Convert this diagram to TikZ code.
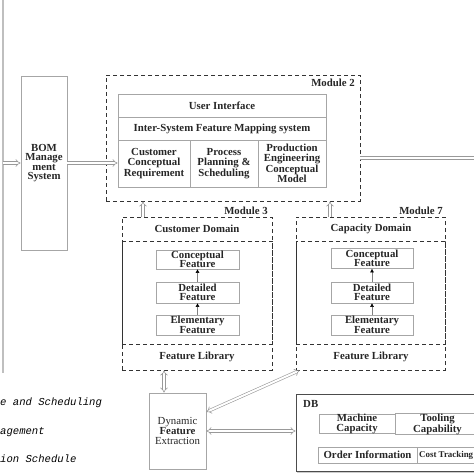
\documentclass[tikz,border=0pt]{standalone}
\usepackage{fontspec}
\setmainfont{Liberation Serif}
\newfontfamily\monoit{Liberation Mono}
\usetikzlibrary{arrows.meta,shadows}
\begin{document}
\begin{tikzpicture}[x=1pt,y=-1pt,
  box/.style={draw=gray!70, line width=0.7pt, inner sep=0pt, align=center, font=\fontsize{10.8}{9.6}\selectfont\bfseries, text=black!85},
  dbox/.style={draw=black!80, dash pattern=on 4pt off 3pt, line width=0.9pt, inner sep=0pt},
  lbl/.style={inner sep=0pt, font=\fontsize{10.8}{9.6}\selectfont\bfseries, text=black!85, align=center},
  legend/.style={anchor=west, inner sep=0pt, font=\monoit\itshape\fontsize{10.6}{12}\selectfont, text=black},
  dbl/.style={draw=gray!80, double=white, double distance=2pt, line width=0.6pt},
  imp/.style={dbl, -{Implies}},
  imp2/.style={dbl, {Implies}-{Implies}},
  farrow/.style={draw=gray, line width=0.5pt, -{Triangle[length=3.5pt,width=3.5pt,color=black]}}
]
\useasboundingbox (0,0) rectangle (474,474);
\clip (0,0) rectangle (474,474);

% left border line
\draw[gray!50, line width=1.5pt] (3,0) -- (3,373);
\coordinate (L) at (3,163);

% BOM
\node[box, minimum width=46pt, minimum height=174pt] (bom) at (44,163) {BOM\\Manage\\ment\\System};

% Module 2
\node[dbox, minimum width=254pt, minimum height=126pt] (mod2) at (233,138) {};
\node[lbl, anchor=east] (m2lbl) at (355,83) {Module 2};
\node[box, minimum width=208pt, minimum height=23pt] (ui) at (222,105.5) {User Interface};
\node[box, minimum width=208pt, minimum height=23pt] (isfm) at (222,128.5) {Inter-System Feature Mapping system};
\node[box, minimum width=72pt, minimum height=47pt] (ccr) at (154,163.5) {Customer\\Conceptual\\Requirement};
\node[box, minimum width=68pt, minimum height=47pt] (pps) at (224,163.5) {Process\\Planning \&\\Scheduling};
\node[box, minimum width=68pt, minimum height=47pt] (pecm) at (292,163.5) {Production\\Engineering\\Conceptual\\Model};

% Module 3
\node[dbox, minimum width=150pt, minimum height=153pt] (mod3) at (197,293.5) {};
\node[dbox, minimum width=150pt, minimum height=103pt] (lib3) at (197,292.5) {};
\node[lbl, anchor=east] (m3lbl) at (268,211) {Module 3};
\node[lbl] (cd) at (197,229) {Customer Domain};
\node[lbl] (fl3) at (197,357) {Feature Library};
\node[box, minimum width=83pt, minimum height=19pt] (cf3) at (197.5,259.5) {Conceptual\\Feature};
\node[box, minimum width=83pt, minimum height=21pt] (df3) at (197.5,292.5) {Detailed\\Feature};
\node[box, minimum width=83pt, minimum height=20pt] (ef3) at (197.5,325) {Elementary\\Feature};
\draw[farrow] (ef3.north) -- (df3.south);
\draw[farrow] (df3.north) -- (cf3.south);

% Module 7
\node[dbox, minimum width=149pt, minimum height=153pt] (mod7) at (370.5,293.5) {};
\node[dbox, minimum width=149pt, minimum height=103pt] (lib7) at (370.5,292.5) {};
\node[lbl, anchor=east] (m7lbl) at (443,211) {Module 7};
\node[lbl] (capd) at (371,229) {Capacity Domain};
\node[lbl] (fl7) at (371,357) {Feature Library};
\node[box, minimum width=82pt, minimum height=20pt] (cf7) at (372,258.5) {Conceptual\\Feature};
\node[box, minimum width=82pt, minimum height=21pt] (df7) at (372,292.5) {Detailed\\Feature};
\node[box, minimum width=82pt, minimum height=20pt] (ef7) at (372,325) {Elementary\\Feature};
\draw[farrow] (ef7.north) -- (df7.south);
\draw[farrow] (df7.north) -- (cf7.south);

% Dynamic Feature Extraction
\node[box, minimum width=57pt, minimum height=76pt] (dfe) at (177.5,431) {{\mdseries Dynamic}\\Feature\\{\mdseries Extraction}};

% DB
\node[box, draw=black!70, fill=white, drop shadow={shadow xshift=1.2pt, shadow yshift=-1.5pt, opacity=0.4}, minimum width=204pt, minimum height=77pt] (db) at (398,432.5) {};
\node[lbl, anchor=west] (dblbl) at (303,404) {DB};
\node[box, minimum width=76pt, minimum height=18pt] (mc) at (357,424) {Machine\\Capacity};
\node[box, minimum width=85pt, minimum height=18pt] (tc) at (437.5,424) {Tooling\\Capability};
\node[box, minimum width=99pt, minimum height=16pt] (oi) at (367.5,455) {Order Information};
\node[box, minimum width=83pt, minimum height=16pt] (ct) at (458.5,455) {};
\node[lbl, anchor=west, font=\fontsize{8.9}{9.6}\selectfont\bfseries] (ctt) at (419,455) {Cost Tracking};

% legend fragments
\node[legend] (t1) at (0,403) {e and Scheduling};
\node[legend] (t2) at (0,432) {agement};
\node[legend] (t3) at (0,459) {ion Schedule};

% connectors
\coordinate (a3) at (143,0);
\coordinate (a7) at (330,0);
\coordinate (b3) at (164,0);
\coordinate (d1) at (0,412);
\coordinate (c1) at (0,431);
\coordinate (R) at (480,158);
\draw[imp] (L) -- (bom.west);
\draw[imp] (bom.east) -- (bom.east -| ccr.west);
\draw[dbl] (mod2.east |- R) -- (R);
\draw[imp] (a3 |- mod3.north) -- (a3 |- mod2.south);
\draw[imp] (a7 |- mod7.north) -- (a7 |- mod2.south);
\draw[imp2] (b3 |- mod3.south) -- (b3 |- dfe.north);
\draw[imp2] (dfe.east |- d1) -- ([xshift=4pt]mod7.south west);
\draw[imp2] (dfe.east |- c1) -- (db.west |- c1);
\end{tikzpicture}
\end{document}
